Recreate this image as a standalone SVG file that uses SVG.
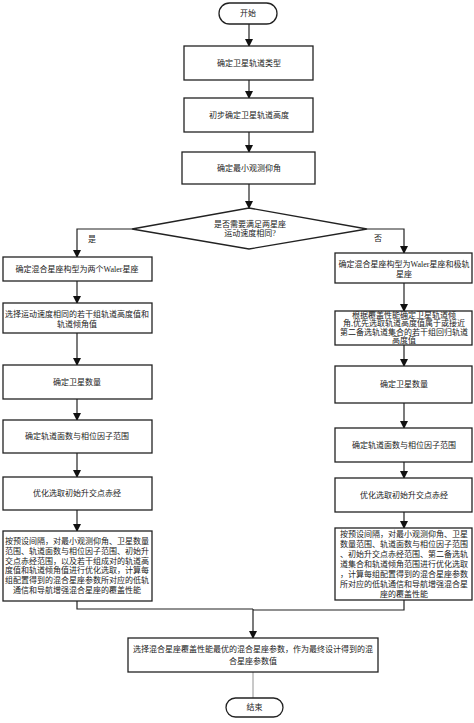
<svg xmlns="http://www.w3.org/2000/svg" width="474" height="723" viewBox="0 0 474 723">
<style>
.b{fill:#fff;stroke:#222;stroke-width:1.3}
.t{font-family:"Liberation Serif","Noto Sans CJK SC",serif;font-size:8px;fill:#222;text-anchor:middle;dominant-baseline:central}
.c{fill:none;stroke:#222;stroke-width:1.2}
</style>
<defs>
<marker id="a" markerWidth="8" markerHeight="8" refX="7" refY="4" orient="auto" markerUnits="userSpaceOnUse">
<path d="M0,0 L8,4 L0,8 Z" fill="#111"/>
</marker>
</defs>
<rect width="474" height="723" fill="#fff"/>
<g id="connectors">
<line class="c" x1="249" y1="24" x2="249" y2="46" marker-end="url(#a)"/>
<line class="c" x1="249" y1="80" x2="249" y2="98" marker-end="url(#a)"/>
<line class="c" x1="249" y1="132" x2="249" y2="152" marker-end="url(#a)"/>
<line class="c" x1="249" y1="184" x2="249" y2="208" marker-end="url(#a)"/>
<polyline class="c" points="132,229 77,229 77,257" marker-end="url(#a)"/>
<polyline class="c" points="367,229 404,229 404,253" marker-end="url(#a)"/>
<line class="c" x1="77" y1="281" x2="77" y2="303" marker-end="url(#a)"/>
<line class="c" x1="77" y1="333" x2="77" y2="365" marker-end="url(#a)"/>
<line class="c" x1="77" y1="399" x2="77" y2="420" marker-end="url(#a)"/>
<line class="c" x1="77" y1="453" x2="77" y2="477" marker-end="url(#a)"/>
<line class="c" x1="77" y1="510" x2="77" y2="531" marker-end="url(#a)"/>
<line class="c" x1="404" y1="283" x2="404" y2="311" marker-end="url(#a)"/>
<line class="c" x1="404" y1="345" x2="404" y2="366" marker-end="url(#a)"/>
<line class="c" x1="404" y1="403" x2="404" y2="428" marker-end="url(#a)"/>
<line class="c" x1="404" y1="462" x2="404" y2="478" marker-end="url(#a)"/>
<line class="c" x1="404" y1="512" x2="404" y2="528" marker-end="url(#a)"/>
<polyline class="c" points="77,601 77,609 253,609"/>
<polyline class="c" points="404,600 404,610 253,610"/>
<line class="c" x1="253" y1="609" x2="253" y2="638" marker-end="url(#a)"/>
<line x1="253" y1="672" x2="253" y2="698" stroke="#777" stroke-width="0.8"/>
<text class="t" x="92" y="239">是</text>
<text class="t" x="378" y="238">否</text>
</g>
<g id="start"><rect class="b" x="219" y="3" width="58" height="21" rx="10.5"/><text class="t" x="248" y="13.5">开始</text></g>
<g id="n1"><rect class="b" x="184" y="46" width="129" height="34"/><text class="t" x="249" y="63">确定卫星轨道类型</text></g>
<g id="n2"><rect class="b" x="184" y="98" width="129" height="34"/><text class="t" x="249" y="115">初步确定卫星轨道高度</text></g>
<g id="n3"><rect class="b" x="182" y="152" width="133" height="32"/><text class="t" x="249" y="168">确定最小观测仰角</text></g>
<g id="d1"><polygon class="b" points="249,208 367,229 249,249 132,229"/><text class="t" x="250" y="224.5">是否需要满足两星座</text><text class="t" x="250" y="233.5">运动速度相同?</text></g>
<g id="l1"><rect class="b" x="3" y="257" width="149" height="24"/><text class="t" x="77" y="269">确定混合星座构型为两个Waler星座</text></g>
<g id="l2"><rect class="b" x="3" y="303" width="149" height="30"/><text class="t" x="77" y="314">选择运动速度相同的若干组轨道高度值和</text><text class="t" x="77" y="324.5">轨道倾角值</text></g>
<g id="l3"><rect class="b" x="3" y="365" width="149" height="34"/><text class="t" x="77" y="382">确定卫星数量</text></g>
<g id="l4"><rect class="b" x="3" y="420" width="149" height="33"/><text class="t" x="77" y="436.5">确定轨道面数与相位因子范围</text></g>
<g id="l5"><rect class="b" x="3" y="477" width="149" height="33"/><text class="t" x="77" y="493.5">优化选取初始升交点赤经</text></g>
<g id="l6"><rect class="b" x="3" y="531" width="149" height="70"/>
<text class="t" x="77" y="541.5">按预设间隔，对最小观测仰角、卫星数量</text>
<text class="t" x="77" y="551.3">范围、轨道面数与相位因子范围、初始升</text>
<text class="t" x="77" y="561.1">交点赤经范围，以及若干组成对的轨道高</text>
<text class="t" x="77" y="570.9">度值和轨道倾角值进行优化选取，计算每</text>
<text class="t" x="77" y="580.7">组配置得到的混合星座参数所对应的低轨</text>
<text class="t" x="77" y="590.5">通信和导航增强混合星座的覆盖性能</text></g>
<g id="r1"><rect class="b" x="335" y="253" width="137" height="30"/><text class="t" x="404" y="264.5">确定混合星座构型为Waler星座和极轨</text><text class="t" x="404" y="274.5">星座</text></g>
<g id="r2"><rect class="b" x="335" y="311" width="137" height="34"/>
<text class="t" x="404" y="315.5">根据覆盖性能确定卫星轨道倾</text>
<text class="t" x="404" y="323.8">角,优先选取轨道高度值属于或接近</text>
<text class="t" x="404" y="332.1">第二备选轨道集合的若干组回归轨道</text>
<text class="t" x="404" y="340.4">高度值</text></g>
<g id="r3"><rect class="b" x="335" y="366" width="137" height="37"/><text class="t" x="404" y="384.5">确定卫星数量</text></g>
<g id="r4"><rect class="b" x="335" y="428" width="137" height="34"/><text class="t" x="404" y="445">确定轨道面数与相位因子范围</text></g>
<g id="r5"><rect class="b" x="335" y="478" width="137" height="34"/><text class="t" x="404" y="495">优化选取初始升交点赤经</text></g>
<g id="r6"><rect class="b" x="335" y="528" width="137" height="72"/>
<text class="t" x="404" y="534">按预设间隔，对最小观测仰角、卫星</text>
<text class="t" x="404" y="544">数量范围、轨道面数与相位因子范围</text>
<text class="t" x="404" y="554">、初始升交点赤经范围、第二备选轨</text>
<text class="t" x="404" y="564">道集合和轨道倾角范围进行优化选取</text>
<text class="t" x="404" y="574">，计算每组配置得到的混合星座参数</text>
<text class="t" x="404" y="584">所对应的低轨通信和导航增强混合星</text>
<text class="t" x="404" y="594">座的覆盖性能</text></g>
<g id="final"><rect class="b" x="128" y="638" width="250" height="34"/><text class="t" x="253" y="649.5">选择混合星座覆盖性能最优的混合星座参数，作为最终设计得到的混</text><text class="t" x="253" y="661">合星座参数值</text></g>
<g id="end"><rect class="b" x="226" y="698" width="57" height="19" rx="9.5"/><text class="t" x="254.5" y="707.5">结束</text></g>
</svg>
